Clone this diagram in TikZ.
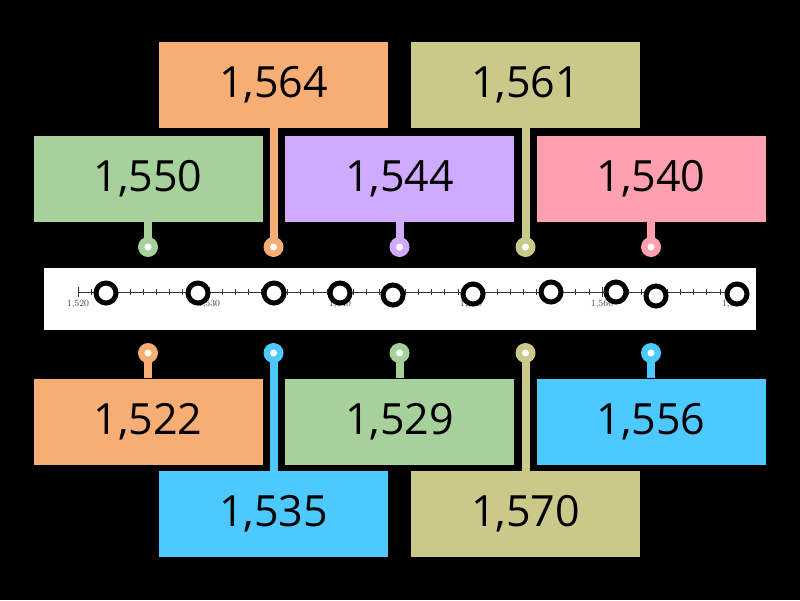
\documentclass[tikz,border=0pt]{standalone}
\usepackage{fontspec}
\setmainfont{Open Sans}
\newfontfamily\tickfont{Latin Modern Roman}
\definecolor{cgreen}{HTML}{A6D19A}
\definecolor{cpurple}{HTML}{CFAAFF}
\definecolor{cpink}{HTML}{FFA0B0}
\definecolor{corange}{HTML}{F7AE74}
\definecolor{colive}{HTML}{CBC98A}
\definecolor{cblue}{HTML}{4DC9FF}
\begin{document}
\begin{tikzpicture}[x=1pt,y=-1pt,
  databox/.style={fill=#1, minimum width=229pt, minimum height=86pt, inner sep=0pt,
    font=\fontsize{43}{43}\selectfont, text=black},
  conn/.style={draw=#1, line width=8pt},
  pinnode/.style={circle, fill=#1, minimum size=20pt, inner sep=0pt},
  pindot/.style={circle, fill=white, minimum size=7pt, inner sep=0pt},
  event/.style={circle, draw=black, fill=white, line width=5pt, minimum size=20pt, inner sep=0pt},
  ticklab/.style={font=\tickfont\fontsize{9.5}{9.5}\selectfont, text=black!75, inner sep=0pt}
]
\useasboundingbox (0,0) rectangle (800,600);
\fill[black] (0,0) rectangle (800,600);
\fill[white] (44,268) rectangle (756,330);

% boxes
\node[databox=corange] (b1564) at (273.5,85) {1,564};
\node[databox=colive]  (b1561) at (525.5,85) {1,561};
\node[databox=cgreen]  (b1550) at (148,178.5) {1,550};
\node[databox=cpurple] (b1544) at (399.5,178.5) {1,544};
\node[databox=cpink]   (b1540) at (651,178.5) {1,540};
\node[databox=corange] (b1522) at (148,421.5) {1,522};
\node[databox=cgreen]  (b1529) at (399.5,421.5) {1,529};
\node[databox=cblue]   (b1556) at (651,421.5) {1,556};
\node[databox=cblue]   (b1535) at (273.5,514) {1,535};
\node[databox=colive]  (b1570) at (525.5,514) {1,570};

% pin positions
\coordinate (p1550) at (148,247);
\coordinate (p1564) at (273.5,247);
\coordinate (p1544) at (399.5,247);
\coordinate (p1561) at (525.5,247);
\coordinate (p1540) at (651,247);
\coordinate (p1522) at (148,353);
\coordinate (p1535) at (273.5,353);
\coordinate (p1529) at (399.5,353);
\coordinate (p1570) at (525.5,353);
\coordinate (p1556) at (651,353);

% connectors
\draw[conn=cgreen]  (b1550.south) -- (p1550);
\draw[conn=corange] (b1564.south) -- (p1564);
\draw[conn=cpurple] (b1544.south) -- (p1544);
\draw[conn=colive]  (b1561.south) -- (p1561);
\draw[conn=cpink]   (b1540.south) -- (p1540);
\draw[conn=corange] (b1522.north) -- (p1522);
\draw[conn=cblue]   (b1535.north) -- (p1535);
\draw[conn=cgreen]  (b1529.north) -- (p1529);
\draw[conn=colive]  (b1570.north) -- (p1570);
\draw[conn=cblue]   (b1556.north) -- (p1556);

% pins
\foreach \n/\c in {1550/cgreen,1564/corange,1544/cpurple,1561/colive,1540/cpink,
                   1522/corange,1535/cblue,1529/cgreen,1570/colive,1556/cblue}{
  \node[pinnode=\c] (pin\n) at (p\n) {};
  \node[pindot] (dot\n) at (p\n) {};
}

% axis
\draw[black!80, line width=1pt] (78,292) -- (733,292);
\foreach \i in {0,...,50}{
  \draw[black!80, line width=0.8pt] ({78+13.1*\i},289) -- ({78+13.1*\i},295);
}
\foreach \i/\t in {0/{1,520},10/{1,530},20/{1,540},30/{1,550},40/{1,560},50/{1,570}}{
  \draw[black!80, line width=1pt] ({78+13.1*\i},287) -- ({78+13.1*\i},297);
  \node[ticklab] (tl\i) at ({78+13.1*\i},304) {\t};
}

% events
\node[event] (e1522) at (106,293) {};
\node[event] (e1529) at (198,293) {};
\node[event] (e1535) at (274,293) {};
\node[event] (e1540) at (340,293) {};
\node[event] (e1544) at (393,295) {};
\node[event] (e1550) at (473,294) {};
\node[event] (e1556) at (551,292) {};
\node[event] (e1561) at (616,292) {};
\node[event] (e1564) at (656,296) {};
\node[event] (e1570) at (737,294) {};
\end{tikzpicture}
\end{document}
